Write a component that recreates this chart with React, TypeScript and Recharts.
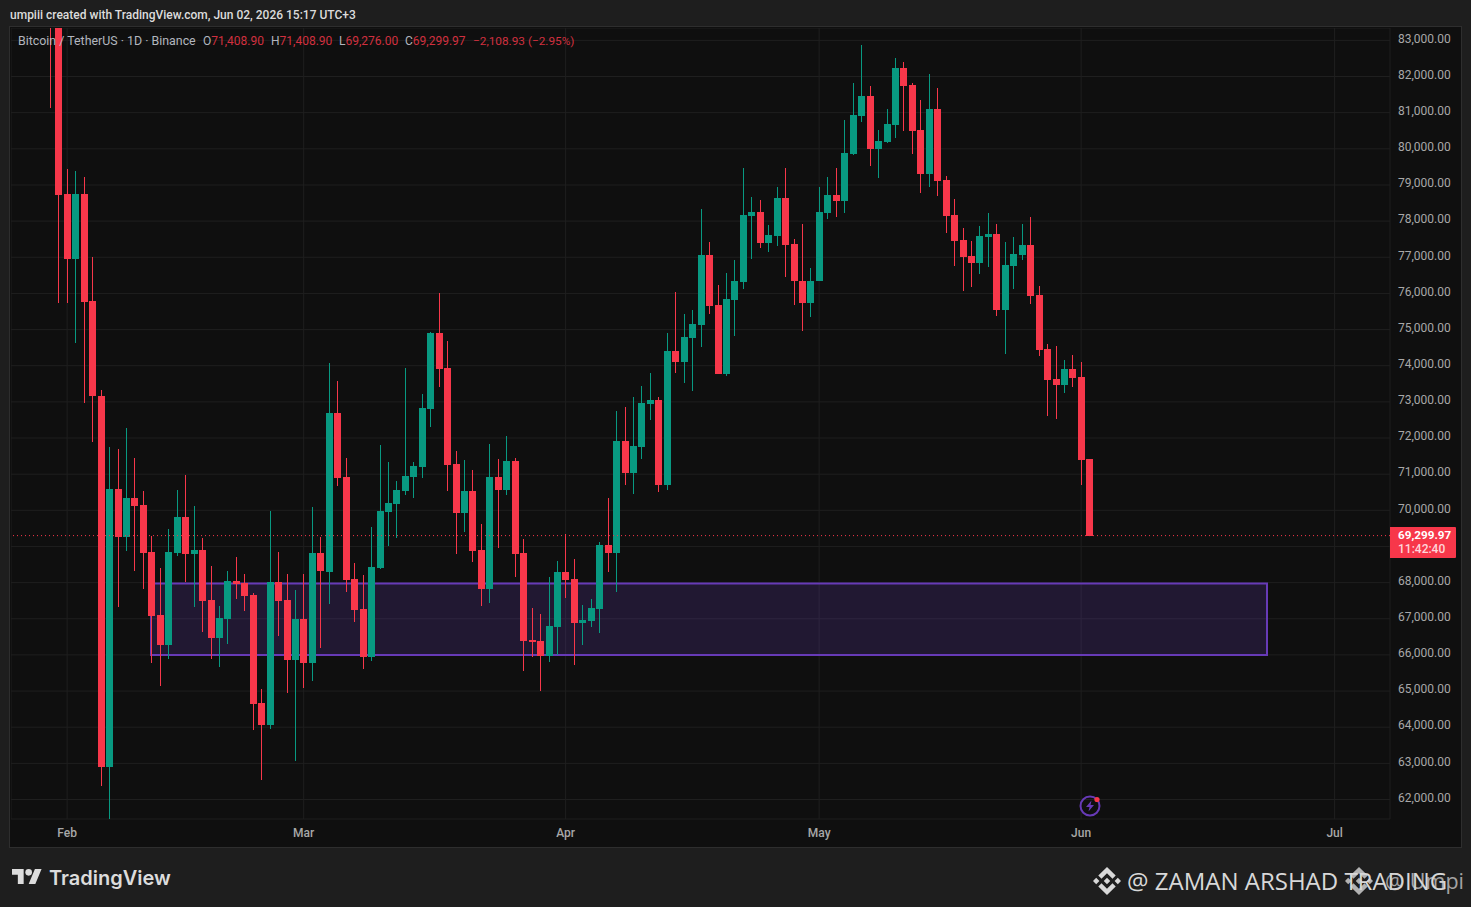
import React from 'react';
import { ComposedChart, Bar, XAxis, YAxis, CartesianGrid, ReferenceArea, ReferenceLine } from 'recharts';

// daily candles, Jan 30 -> Jun 2 (one row per month)
const opens = [
  84600, 84200,
  78742, 76942, 78742, 75779, 73176, 62893, 70600, 69274, 70352, 70158, 68860, 67092, 66263, 68832, 69827, 68805, 68915, 67506, 66457, 66982, 68031, 67976, 67645, 64661, 64054, 68004, 67506, 65849,
  66982, 65766, 68832, 68306, 72684, 70911, 68112, 67281, 65951, 68417, 69941, 70163, 70523, 70911, 71188, 72795, 74901, 73931, 71271, 69913, 70523, 68916, 67835, 70911, 70551, 71354, 68833, 66422, 66395, 65979, 66782,
  68306, 68112, 66893, 66949, 67281, 69050, 68829, 71926, 71041, 71760, 72949, 73060, 70709, 74415, 74110, 74774, 75134, 77069, 75687, 73779, 75825, 76322, 78148, 78259, 77398, 77592, 78648, 77373, 76339, 75742,
  76339, 78220, 78718, 78552, 79852, 80903, 81456, 79990, 80184, 80654, 82230, 81760, 80516, 79299, 81096, 79133, 78165, 77473, 77030, 76837, 77556, 77639, 75537, 76754, 77058, 77335, 75952, 74458, 73628, 73462, 73905,
  73684, 71408.9,
];
const highs = [
  85000, 84800,
  79434, 79379, 79213, 76997, 73342, 71760, 71705, 72285, 71457, 70545, 69302, 68418, 69495, 70573, 70987, 70131, 69247, 68473, 67341, 68335, 68722, 68252, 67700, 65048, 69993, 68860, 68225, 67783,
  68225, 70105, 69274, 74070, 73571, 71437, 68556, 68223, 69526, 71798, 71327, 70800, 73931, 71327, 73211, 74929, 76009, 74679, 71631, 71382, 71105, 69609, 71825, 71410, 72047, 71437, 69193, 67309, 67143, 68168, 68611,
  69332, 68667, 67392, 67558, 69133, 70350, 72755, 72866, 73143, 73447, 73806, 73143, 74912, 76046, 75438, 75548, 78341, 77429, 76240, 76571, 76931, 79481, 78676, 78593, 77898, 78954, 79481, 77501, 77916, 76699,
  78939, 79216, 79465, 80792, 81816, 82867, 81733, 80516, 81096, 82507, 82396, 81816, 81345, 82065, 81677, 79243, 78607, 77805, 77445, 77860, 78220, 77916, 77418, 77556, 77916, 78109, 76201, 74597, 74541, 74154, 74292,
  74099, 71408.9,
];
const lows = [
  81132, 75733,
  75733, 74625, 72964, 71897, 62369, 61457, 67313, 68888, 68308, 67810, 65766, 65131, 65877, 68750, 68004, 67313, 66622, 65877, 65656, 66291, 67534, 67203, 63915, 62534, 63943, 66512, 64937, 63059,
  65076, 65269, 66180, 67420, 70662, 67752, 66921, 65619, 65840, 68390, 69000, 69221, 70412, 70329, 70883, 72296, 73405, 70523, 68805, 69387, 68584, 67364, 67447, 68944, 70412, 68168, 65563, 65951, 65009, 65813, 66007,
  67586, 65730, 66284, 66782, 66617, 68304, 67751, 70709, 70460, 71428, 72507, 70516, 70571, 73806, 73530, 73309, 74525, 75438, 73779, 73723, 74829, 76129, 76954, 77259, 77148, 77315, 76461, 75675, 74956, 75343,
  76339, 78054, 78109, 78220, 79824, 80737, 79520, 79188, 80156, 80294, 80488, 79852, 78773, 78939, 78690, 77667, 76754, 76062, 76173, 76533, 76726, 75371, 74320, 76118, 76920, 75703, 74264, 72605, 72522, 73241, 73407,
  70696, 69276,
];
const closes = [
  84200, 78714,
  76942, 78742, 75751, 73149, 62893, 70600, 69274, 70352, 70131, 68832, 67064, 66263, 68860, 69827, 68805, 68915, 67479, 66457, 67009, 68031, 67948, 67617, 64634, 64054, 68004, 67479, 65849, 66982,
  65766, 68832, 68308, 72684, 70883, 68085, 67254, 65951, 68445, 69969, 70191, 70551, 70939, 71216, 72823, 74901, 73903, 71244, 69913, 70523, 68888, 67835, 70911, 70551, 71354, 68805, 66395, 66367, 65979, 66810, 68306,
  68085, 66893, 66976, 67309, 69050, 68829, 71926, 71041, 71788, 72977, 73060, 70709, 74415, 74110, 74802, 75161, 77069, 75659, 73779, 75852, 76350, 78176, 78259, 77398, 77620, 78648, 77342, 76339, 75742, 76350,
  78247, 78718, 78552, 79879, 80930, 81456, 79990, 80211, 80682, 82230, 81733, 80488, 79299, 81096, 79105, 78137, 77445, 77003, 76837, 77584, 77639, 75537, 76781, 77086, 77335, 75924, 74430, 73601, 73462, 73905, 73656,
  71388, 69299.97,
];

// x = days from Feb 1
const FIRST_DAY = -2;
const monthTicks = [0, 28, 59, 89, 120, 150];
const monthLabels = ['Feb', 'Mar', 'Apr', 'May', 'Jun', 'Jul'];
const priceTicks = [62000, 63000, 64000, 65000, 66000, 67000, 68000, 69000, 70000, 71000, 72000, 73000, 74000, 75000, 76000, 77000, 78000, 79000, 80000, 81000, 82000, 83000];

const zoneDays = [9.93, 142.0];
const zonePrices = [65997, 67975];
const lastPrice = 69299.97;

const UP = '#089981';
const DOWN = '#f7374a';
const PURPLE = '#673ab7';
const GRID = '#1f1f1f';
const FONT = 'Roboto, sans-serif';

const candles = opens.map((o, i) => ({ day: i + FIRST_DAY, o, h: highs[i], l: lows[i], c: closes[i] }));

const fmtPrice = (v: number) => v.toLocaleString('en-US', { minimumFractionDigits: 2, maximumFractionDigits: 2 });

const Candle = (props: any) => {
  const { x, y, height, payload } = props;
  const { o, h, l, c } = payload;
  const color = c >= o ? UP : DOWN;
  const k = height / (h - l);
  const top = y + (h - Math.max(o, c)) * k;
  const bottom = y + (h - Math.min(o, c)) * k;
  const left = Math.round(x);
  return (
    <g shapeRendering="crispEdges">
      <rect x={left + 3} y={y} width={1} height={height} fill={color} />
      <rect x={left} y={top} width={7} height={Math.max(bottom - top, 1)} fill={color} />
    </g>
  );
};

const BinanceMark = ({ x, y, size, opacity }: { x: number; y: number; size: number; opacity?: number }) => (
  <svg width={size} height={size} viewBox="0 0 126 126" style={{ position: 'absolute', left: x, top: y, opacity }}>
    <path
      fill="#d8d8d8"
      d="M38.2 53L63 28.3 87.8 53l14.4-14.4L63 0 23.8 38.6zM0 63l14.4-14.4L28.8 63 14.4 77.4zM38.2 73L63 97.7 87.8 73l14.4 14.3L63 126 23.8 87.4zM97.2 63l14.4-14.4L126 63l-14.4 14.4zM77.6 63L63 48.4 48.4 63 63 77.6z"
    />
  </svg>
);

const label = (left: number, top: number, color: string, size: number, extra?: React.CSSProperties): React.CSSProperties => ({
  position: 'absolute',
  left,
  top,
  color,
  fontSize: size,
  lineHeight: '14px',
  whiteSpace: 'nowrap',
  fontFamily: FONT,
  ...extra,
});

const App = () => {
  return (
    <div style={{ position: 'absolute', left: 0, top: 0, width: 1471, height: 907, background: '#1e1e1e', overflow: 'hidden' }}>
      <style>{`body{margin:0}`}</style>
      <div style={label(10, 8, '#dcdcdc', 12, { fontWeight: 500 })}>umpiii created with TradingView.com, Jun 02, 2026 15:17 UTC+3</div>

      {/* chart panel */}
      <div style={{ position: 'absolute', left: 9, top: 26, width: 1451, height: 820, background: '#0f0f0f', border: '1px solid #2e2e2e' }} />
      <div style={{ position: 'absolute', left: 11, top: 28 }}>
        <ComposedChart width={1449} height={818} data={candles} margin={{ top: 0, right: 0, bottom: 0, left: 0 }}>
          <CartesianGrid stroke={GRID} strokeWidth={1} />
          <XAxis
            dataKey="day"
            type="number"
            domain={[-6.639, 156.556]}
            allowDataOverflow
            ticks={monthTicks}
            interval={0}
            height={27}
            tickLine={false}
            axisLine={false}
            tickMargin={3}
            tick={{ fill: '#a8a8a8', fontSize: 12, fontFamily: FONT, fontWeight: 500 }}
            tickFormatter={(v: number) => monthLabels[monthTicks.indexOf(v)]}
          />
          <YAxis
            orientation="right"
            type="number"
            domain={[61461, 83342]}
            allowDataOverflow
            ticks={priceTicks}
            interval={0}
            width={70}
            tickLine={false}
            axisLine={false}
            tickMargin={2}
            tick={{ fill: '#a8a8a8', fontSize: 12, fontFamily: FONT, dy: -2 }}
            tickFormatter={(v: number) => (v === 69000 ? '' : fmtPrice(v))}
          />
          <ReferenceArea
            x1={zoneDays[0]}
            x2={zoneDays[1]}
            y1={zonePrices[0]}
            y2={zonePrices[1]}
            fill={PURPLE}
            fillOpacity={0.215}
            stroke={PURPLE}
            strokeWidth={2}
          />
          <ReferenceLine y={lastPrice} stroke={DOWN} strokeDasharray="1 3" />
          <Bar dataKey={(d: any) => [d.l, d.h]} barSize={7} shape={<Candle />} isAnimationActive={false} />
        </ComposedChart>
      </div>

      {/* legend */}
      <div style={label(18, 34, '#b2b5be', 12.4)}>Bitcoin / TetherUS · 1D · Binance</div>
      <div style={label(203, 34, '#b2b5be', 12)}>O<span style={{ color: '#d1303f' }}>71,408.90</span></div>
      <div style={label(271, 34, '#b2b5be', 12)}>H<span style={{ color: '#d1303f' }}>71,408.90</span></div>
      <div style={label(339, 34, '#b2b5be', 12)}>L<span style={{ color: '#d1303f' }}>69,276.00</span></div>
      <div style={label(405, 34, '#b2b5be', 12)}>C<span style={{ color: '#d1303f' }}>69,299.97</span></div>
      <div style={label(473, 34, '#d1303f', 11.8)}>−2,108.93 (−2.95%)</div>

      {/* last price tag */}
      <div style={{ position: 'absolute', left: 1390, top: 527, width: 66, height: 31, background: DOWN, borderRadius: '0 1px 1px 0' }} />
      <div style={label(1398, 528, '#ffffff', 11.7, { fontWeight: 700 })}>69,299.97</div>
      <div style={label(1398, 542, '#ffd5da', 12, { fontWeight: 500 })}>11:42:40</div>

      {/* lightning badge */}
      <svg width={28} height={28} style={{ position: 'absolute', left: 1076, top: 792 }}>
        <circle cx={14} cy={14} r={9.5} fill="none" stroke={PURPLE} strokeWidth={2} />
        <path d="M15.5 8.5L10 15h3.5l-1 4.5L18 13h-3.5z" fill={PURPLE} />
        <circle cx={21} cy={7.5} r={2.6} fill={DOWN} />
      </svg>

      {/* footer */}
      <svg width={30} height={15} viewBox="0 4 36 18" style={{ position: 'absolute', left: 12, top: 869 }}>
        <path fill="#dcdcdc" d="M14 22H7V11H0V4h14v18zM28 22h-8l7.5-18h8L28 22z" />
        <circle cx={20} cy={8} r={4} fill="#dcdcdc" />
      </svg>
      <div style={{ ...label(49, 868, '#dcdcdc', 20, { fontWeight: 600, fontFamily: 'Inter, sans-serif' }), lineHeight: '20px' }}>TradingView</div>

      <BinanceMark x={1093} y={867} size={28} />
      <div style={{ ...label(1127, 866, '#d8d8d8', 24, { fontFamily: '"Open Sans", sans-serif' }), lineHeight: '30px' }}>@ ZAMAN ARSHAD TRADING</div>
      <BinanceMark x={1345} y={867} size={28} opacity={0.8} />
      <div style={{ ...label(1385, 866, '#d0d0d0', 21.5, { fontFamily: '"Open Sans", sans-serif', opacity: 0.75 }), lineHeight: '30px' }}>@ Umpi</div>
    </div>
  );
};

export default App;
